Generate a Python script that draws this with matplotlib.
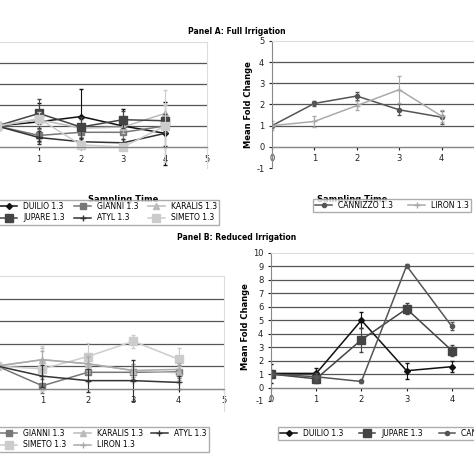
import matplotlib
matplotlib.use("Agg")
import matplotlib.pyplot as plt

plt.rcParams["axes.unicode_minus"] = False

W = 474.0
TIMES = [0, 1, 2, 3, 4]

# Panel A, left (values ~1 baseline)
A_LEFT = {
    "DUILIO 1.3": ([1, 1.2, 1.45, 1.0, 0.65], [0, 0.9, 1.3, 0.8, 1.5]),
    "GIANNI 1.3": ([1, 0.55, 0.7, 0.7, 1.0], [0, 0.3, 0.3, 0.3, 0.3]),
    "KARALIS 1.3": ([1, 1.3, 0.9, 0.95, 1.6], [0, 0.4, 0.4, 0.3, 0.4]),
    "JUPARE 1.3": ([1, 1.6, 0.95, 1.3, 1.25], [0, 0.7, 0.5, 0.4, 0.3]),
    "ATYL 1.3": ([1, 0.45, 0.25, 0.2, 0.65], [0, 0.3, 0.2, 0.2, 0.6]),
    "SIMETO 1.3": ([1, 1.35, 0.1, 0.0, 1.0], [0, 0.3, 0.1, 0.1, 1.7]),
}
A_RIGHT = {
    "CANNIZZO 1.3": ([1, 2.05, 2.4, 1.75, 1.4], [0, 0.1, 0.2, 0.25, 0.3]),
    "LIRON 1.3": ([1, 1.2, 1.95, 2.7, 1.45], [0.2, 0.25, 0.2, 0.65, 0.3]),
}
B_LEFT = {
    "GIANNI 1.3": ([1, 0.12, 0.72, 0.72, 0.75], [0, 0.3, 0.4, 0.3, 0.3]),
    "SIMETO 1.3": ([1, 0.87, 1.42, 2.1, 1.3], [0, 1.0, 0.6, 0.3, 0.5]),
    "KARALIS 1.3": ([1, 1.28, 1.1, 0.8, 0.7], [0, 0.5, 0.4, 0.3, 0.3]),
    "LIRON 1.3": ([1, 1.28, 1.1, 0.8, 0.85], [0, 0.4, 0.3, 0.3, 0.3]),
    "ATYL 1.3": ([1, 0.55, 0.35, 0.35, 0.27], [0, 0.5, 0.5, 0.9, 0.3]),
}
B_RIGHT = {
    "DUILIO 1.3": ([1.05, 1.05, 5.0, 1.25, 1.55], [0.7, 0.4, 0.6, 0.6, 0.4]),
    "JUPARE 1.3": ([1.0, 0.65, 3.55, 5.85, 2.75], [0.3, 0.3, 0.9, 0.4, 0.4]),
    "CANNIZZO 1.3": ([1.0, 0.8, 0.45, 9.05, 4.55], [0.1, 0.3, 0.1, 0.1, 0.3]),
}

STYLE = {
    "DUILIO 1.3": ("#111111", "D", 3),
    "JUPARE 1.3": ("#444444", "s", 6),
    "GIANNI 1.3": ("#777777", "s", 4),
    "KARALIS 1.3": ("#bbbbbb", "^", 4),
    "ATYL 1.3": ("#333333", "+", 4),
    "SIMETO 1.3": ("#cccccc", "s", 6),
    "CANNIZZO 1.3": ("#555555", "o", 3),
    "LIRON 1.3": ("#aaaaaa", "+", 4),
}


def axes_px(fig, x0, x1, ytop, ybot):
    return fig.add_axes([x0 / W, 1 - ybot / W, (x1 - x0) / W, (ybot - ytop) / W])


def draw(ax, data, ylim, yticks, xticks, show_y=True):
    for name, (vals, errs) in data.items():
        c, m, ms = STYLE[name]
        ax.plot(TIMES, vals, color=c, marker=m, ms=ms, lw=1.1, label=name)
        ax.errorbar(TIMES, vals, yerr=errs, fmt="none", ecolor=c,
                    elinewidth=0.8, capsize=1.5)
    ax.set_xlim(0, 5)
    ax.set_ylim(*ylim)
    for y in yticks:
        if ylim[0] < y < ylim[1]:
            ax.axhline(y, color="#555555", lw=0.9, zorder=0)
    ax.set_yticks(yticks)
    ax.set_xticks(xticks)
    if not show_y:
        ax.tick_params(axis="y", labelleft=False, left=False)
    ax.spines["bottom"].set_position(("data", 0))
    ax.spines[["top", "right"]].set_color("#dddddd")
    ax.spines["left"].set_color("#888888")
    ax.spines["bottom"].set_color("#888888")
    ax.tick_params(labelsize=6, length=2, colors="#222222")


LEG = dict(fontsize=5.5, frameon=True, fancybox=False, edgecolor="#999999",
           handlelength=2.2, borderpad=0.3, labelspacing=0.3)

fig = plt.figure(figsize=(4.74, 4.74), dpi=100)

ax1 = axes_px(fig, -3, 207, 42, 168)
draw(ax1, A_LEFT, (-1, 5), range(-1, 6), [1, 2, 3, 4, 5], show_y=False)
ax1.text(0.6, -0.27, "Sampling Time", transform=ax1.transAxes, ha="center",
         fontsize=6, weight="bold")
h, l = ax1.get_legend_handles_labels()
order = [0, 3, 1, 4, 2, 5]
fig.legend([h[i] for i in order], [l[i] for i in order], ncol=3,
           loc="upper left", bbox_to_anchor=(-0.012, 1 - 196 / W),
           columnspacing=1.2, **LEG)

ax2 = axes_px(fig, 272, 484, 41, 168)
draw(ax2, A_RIGHT, (-1, 5), range(-1, 6), [0, 1, 2, 3, 4])
ax2.set_ylabel("Mean Fold Change", fontsize=6, weight="bold", labelpad=2)
ax2.text(0.38, -0.27, "Sampling Time", transform=ax2.transAxes, ha="center",
         fontsize=6, weight="bold")
ax2.legend(ncol=2, loc="upper left", bbox_to_anchor=(309 / W, 1 - 195 / W),
           bbox_transform=fig.transFigure, **LEG)

ax3 = axes_px(fig, -3, 224, 276, 411)
draw(ax3, B_LEFT, (-1, 5), range(-1, 6), [1, 2, 3, 4, 5], show_y=False)
fig.legend(*ax3.get_legend_handles_labels(), ncol=3,
           loc="upper left", bbox_to_anchor=(-0.012, 1 - 423 / W),
           columnspacing=1.0, **LEG)

ax4 = axes_px(fig, 271, 497, 253, 401)
draw(ax4, B_RIGHT, (-1, 10), range(-1, 11), [0, 1, 2, 3, 4])
ax4.set_ylabel("Mean Fold Change", fontsize=6, weight="bold", labelpad=2)
ax4.legend(ncol=3, loc="upper left", bbox_to_anchor=(274 / W, 1 - 423 / W),
           bbox_transform=fig.transFigure, **LEG)

fig.text(237 / W, 1 - 32 / W, "Panel A: Full Irrigation", ha="center", va="center",
         fontsize=5.5, weight="bold")
fig.text(237 / W, 1 - 237 / W, "Panel B: Reduced Irrigation", ha="center", va="center",
         fontsize=5.5, weight="bold")

fig.savefig("out.png", dpi=100, facecolor="white")
